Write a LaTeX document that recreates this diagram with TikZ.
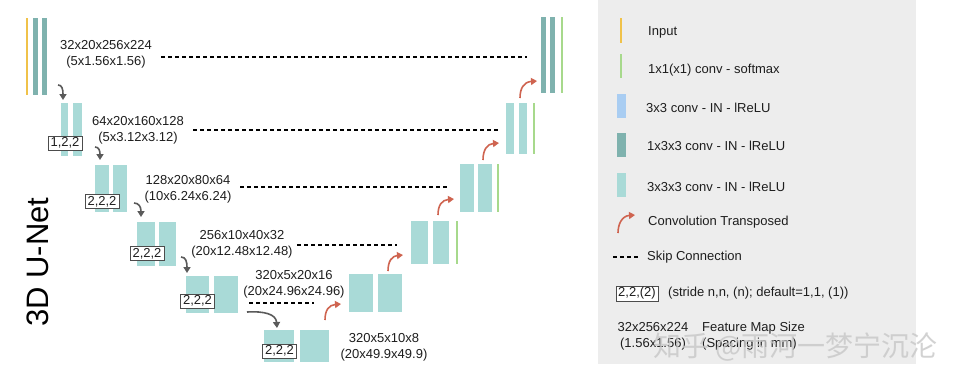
\documentclass[tikz,border=0pt]{standalone}
\usepackage{fontspec}
\setmainfont{Liberation Sans}
\newfontfamily\cjk{Noto Sans CJK SC}
\usetikzlibrary{arrows.meta}
\definecolor{lteal}{RGB}{169,218,215}
\definecolor{dteal}{RGB}{127,178,174}
\definecolor{inp}{RGB}{240,194,74}
\definecolor{grn}{RGB}{167,217,140}
\definecolor{lblue}{RGB}{169,205,242}
\definecolor{oarr}{RGB}{207,100,80}
\definecolor{garr}{RGB}{90,90,90}
\definecolor{panel}{RGB}{237,237,237}
\definecolor{txt}{RGB}{30,30,30}
\begin{document}
\begin{tikzpicture}[x=1pt,y=-1pt,
  lt/.style={fill=lteal},
  dk/.style={fill=dteal},
  skipline/.style={draw=black, line width=1.3pt, dash pattern=on 4pt off 3pt},
  downarr/.style={draw=garr, line width=1.6pt, -{Triangle[length=6pt,width=7pt]}},
  uparr/.style={draw=oarr, line width=1.6pt, -{Triangle[length=6pt,width=7pt]}},
  lbl/.style={font=\fontsize{13}{16}\selectfont, text=txt, align=center, inner sep=0pt},
  strbox/.style={draw=black!70, fill=white, line width=0.8pt, minimum width=34pt, minimum height=14pt, inner sep=0pt, font=\fontsize{13}{15}\selectfont, text=txt},
  leg/.style={font=\fontsize{13}{15}\selectfont, text=txt, anchor=west, inner sep=0pt}]
\useasboundingbox (0,0) rectangle (975,384);
\fill[white] (0,0) rectangle (975,384);
\fill[panel] (598,0) rectangle (916,364);

% title
\node[rotate=90, font=\fontsize{31}{31}\selectfont, text=black] (title) at (38,262) {3D U-Net};

% ---------- encoder ----------
\fill[inp] (25.7,18) rectangle (27.7,95);
\fill[dk] (32.7,18) rectangle (37.7,95);
\fill[dk] (41.7,18) rectangle (46.7,95);

\fill[lt] (60.7,103) rectangle (68.3,156);
\fill[lt] (73.3,103) rectangle (81.7,156);

\fill[lt] (95,165) rectangle (109,212);
\fill[lt] (113,165) rectangle (127,212);

\fill[lt] (137,222) rectangle (155,266);
\fill[lt] (159,222) rectangle (176,266);

\fill[lt] (186,276) rectangle (209,313);
\fill[lt] (214,276) rectangle (238,313);

\fill[lt] (264,330) rectangle (294,362);
\fill[lt] (300,330) rectangle (329,362);

% stride boxes
\node[strbox] (s2) at (65,143) {1,2,2};
\node[strbox] (s3) at (102,201.5) {2,2,2};
\node[strbox] (s4) at (147,253.5) {2,2,2};
\node[strbox] (s5) at (197.5,301) {2,2,2};
\node[strbox] (s6) at (279.5,351) {2,2,2};

% size labels
\node[lbl] (t1) at (106,54) {32x20x256x224\\(5x1.56x1.56)};
\node[lbl] (t2) at (138,130) {64x20x160x128\\(5x3.12x3.12)};
\node[lbl] (t3) at (188,189) {128x20x80x64\\(10x6.24x6.24)};
\node[lbl] (t4) at (242,244.5) {256x10x40x32\\(20x12.48x12.48)};
\node[lbl] (t5) at (294,284.5) {320x5x20x16\\(20x24.96x24.96)};
\node[lbl] (t6) at (384,347) {320x5x10x8\\(20x49.9x49.9)};

% ---------- decoder ----------
\fill[lt] (349,274) rectangle (373,312);
\fill[lt] (378,274) rectangle (402,312);

\fill[lt] (411,221) rectangle (428,264);
\fill[lt] (433,221) rectangle (449,264);
\fill[grn] (456,221) rectangle (458,264);

\fill[lt] (460,164) rectangle (474,212);
\fill[lt] (478,164) rectangle (492,212);
\fill[grn] (497,164) rectangle (499,212);

\fill[lt] (506,103) rectangle (514,154);
\fill[lt] (519,103) rectangle (527,154);
\fill[grn] (533,103) rectangle (535,154);

\fill[dk] (541,17) rectangle (546,93);
\fill[dk] (550,17) rectangle (555,93);
\fill[grn] (561,17) rectangle (563,93);

% skip connections
\coordinate (k1a) at (161,57);  \coordinate (k1b) at (527,57);
\coordinate (k2a) at (193,130); \coordinate (k2b) at (498,130);
\coordinate (k3a) at (240,187); \coordinate (k3b) at (448,187);
\coordinate (k4a) at (297,245); \coordinate (k4b) at (397,245);
\coordinate (k5a) at (249,303); \coordinate (k5b) at (314,303);
\draw[skipline] (k1a) -- (k1b);
\draw[skipline] (k2a) -- (k2b);
\draw[skipline] (k3a) -- (k3b);
\draw[skipline] (k4a) -- (k4b);
\draw[skipline] (k5a) -- (k5b);

% down arrows
\coordinate (d1a) at (58,85);   \coordinate (d1b) at (63,100);
\coordinate (d2a) at (95,147);  \coordinate (d2b) at (100,160);
\coordinate (d3a) at (134,203); \coordinate (d3b) at (141,217);
\coordinate (d4a) at (181,257); \coordinate (d4b) at (187,273);
\coordinate (d5a) at (247,312); \coordinate (d5b) at (277,328);
\draw[downarr] (d1a) .. controls (62,85) and (63,89) .. (d1b);
\draw[downarr] (d2a) .. controls (99,147) and (100,151) .. (d2b);
\draw[downarr] (d3a) .. controls (139,203) and (141,207) .. (d3b);
\draw[downarr] (d4a) .. controls (186,257) and (187,262) .. (d4b);
\draw[downarr] (d5a) .. controls (264,311) and (276,314) .. (d5b);

% up arrows
\coordinate (u1a) at (325,320); \coordinate (u1b) at (341,304);
\coordinate (u2a) at (388,271); \coordinate (u2b) at (403,255);
\coordinate (u3a) at (438,215); \coordinate (u3b) at (454,199);
\coordinate (u4a) at (483,160); \coordinate (u4b) at (499,143);
\coordinate (u5a) at (520,98);  \coordinate (u5b) at (537,81);
\draw[uparr] (u1a) .. controls (325,310) and (329,305) .. (u1b);
\draw[uparr] (u2a) .. controls (388,261) and (392,256) .. (u2b);
\draw[uparr] (u3a) .. controls (438,205) and (442,200) .. (u3b);
\draw[uparr] (u4a) .. controls (483,150) and (487,144) .. (u4b);
\draw[uparr] (u5a) .. controls (520,88) and (524,82) .. (u5b);

% ---------- legend ----------
\fill[inp] (620,18) rectangle (622,43);
\node[leg] (l1) at (648,32) {Input};
\fill[grn] (620,54) rectangle (622,78);
\node[leg] (l2) at (648,70) {1x1(x1) conv - softmax};
\fill[lblue] (617,94) rectangle (626,118);
\node[leg] (l3) at (646,108) {3x3 conv - IN - lReLU};
\fill[dteal] (617,133) rectangle (626,157);
\node[leg] (l4) at (647,146) {1x3x3 conv - IN - lReLU};
\fill[lteal] (617,173) rectangle (626,197);
\node[leg] (l5) at (647,187) {3x3x3 conv - IN - lReLU};
\coordinate (la) at (618,233); \coordinate (lb) at (635,215);
\draw[uparr] (la) .. controls (618,224) and (622,216) .. (lb);
\node[leg] (l6) at (648,222) {Convolution Transposed};
\coordinate (lsa) at (613,257); \coordinate (lsb) at (639,257);
\draw[skipline, line width=1.2pt] (lsa) -- (lsb);
\node[leg] (l7) at (647,257) {Skip Connection};
\node[strbox, minimum width=42pt, minimum height=15pt] (lbox) at (637,293.5) {2,2,(2)};
\node[leg] (l8) at (668,293) {(stride n,n, (n); default=1,1, (1))};
\node[lbl] (l9) at (653,336) {32x256x224\\(1.56x1.56)};
\node[lbl, align=left, anchor=west] (l10) at (702,336) {Feature Map Size\\(Spacing in mm)};

% watermark
\node[font=\cjk\fontsize{28}{28}\selectfont, text=black!22, opacity=0.8, anchor=west, inner sep=0pt] (wm) at (653,347) {知乎 @雨河一梦宁沉沦};
\end{tikzpicture}
\end{document}
